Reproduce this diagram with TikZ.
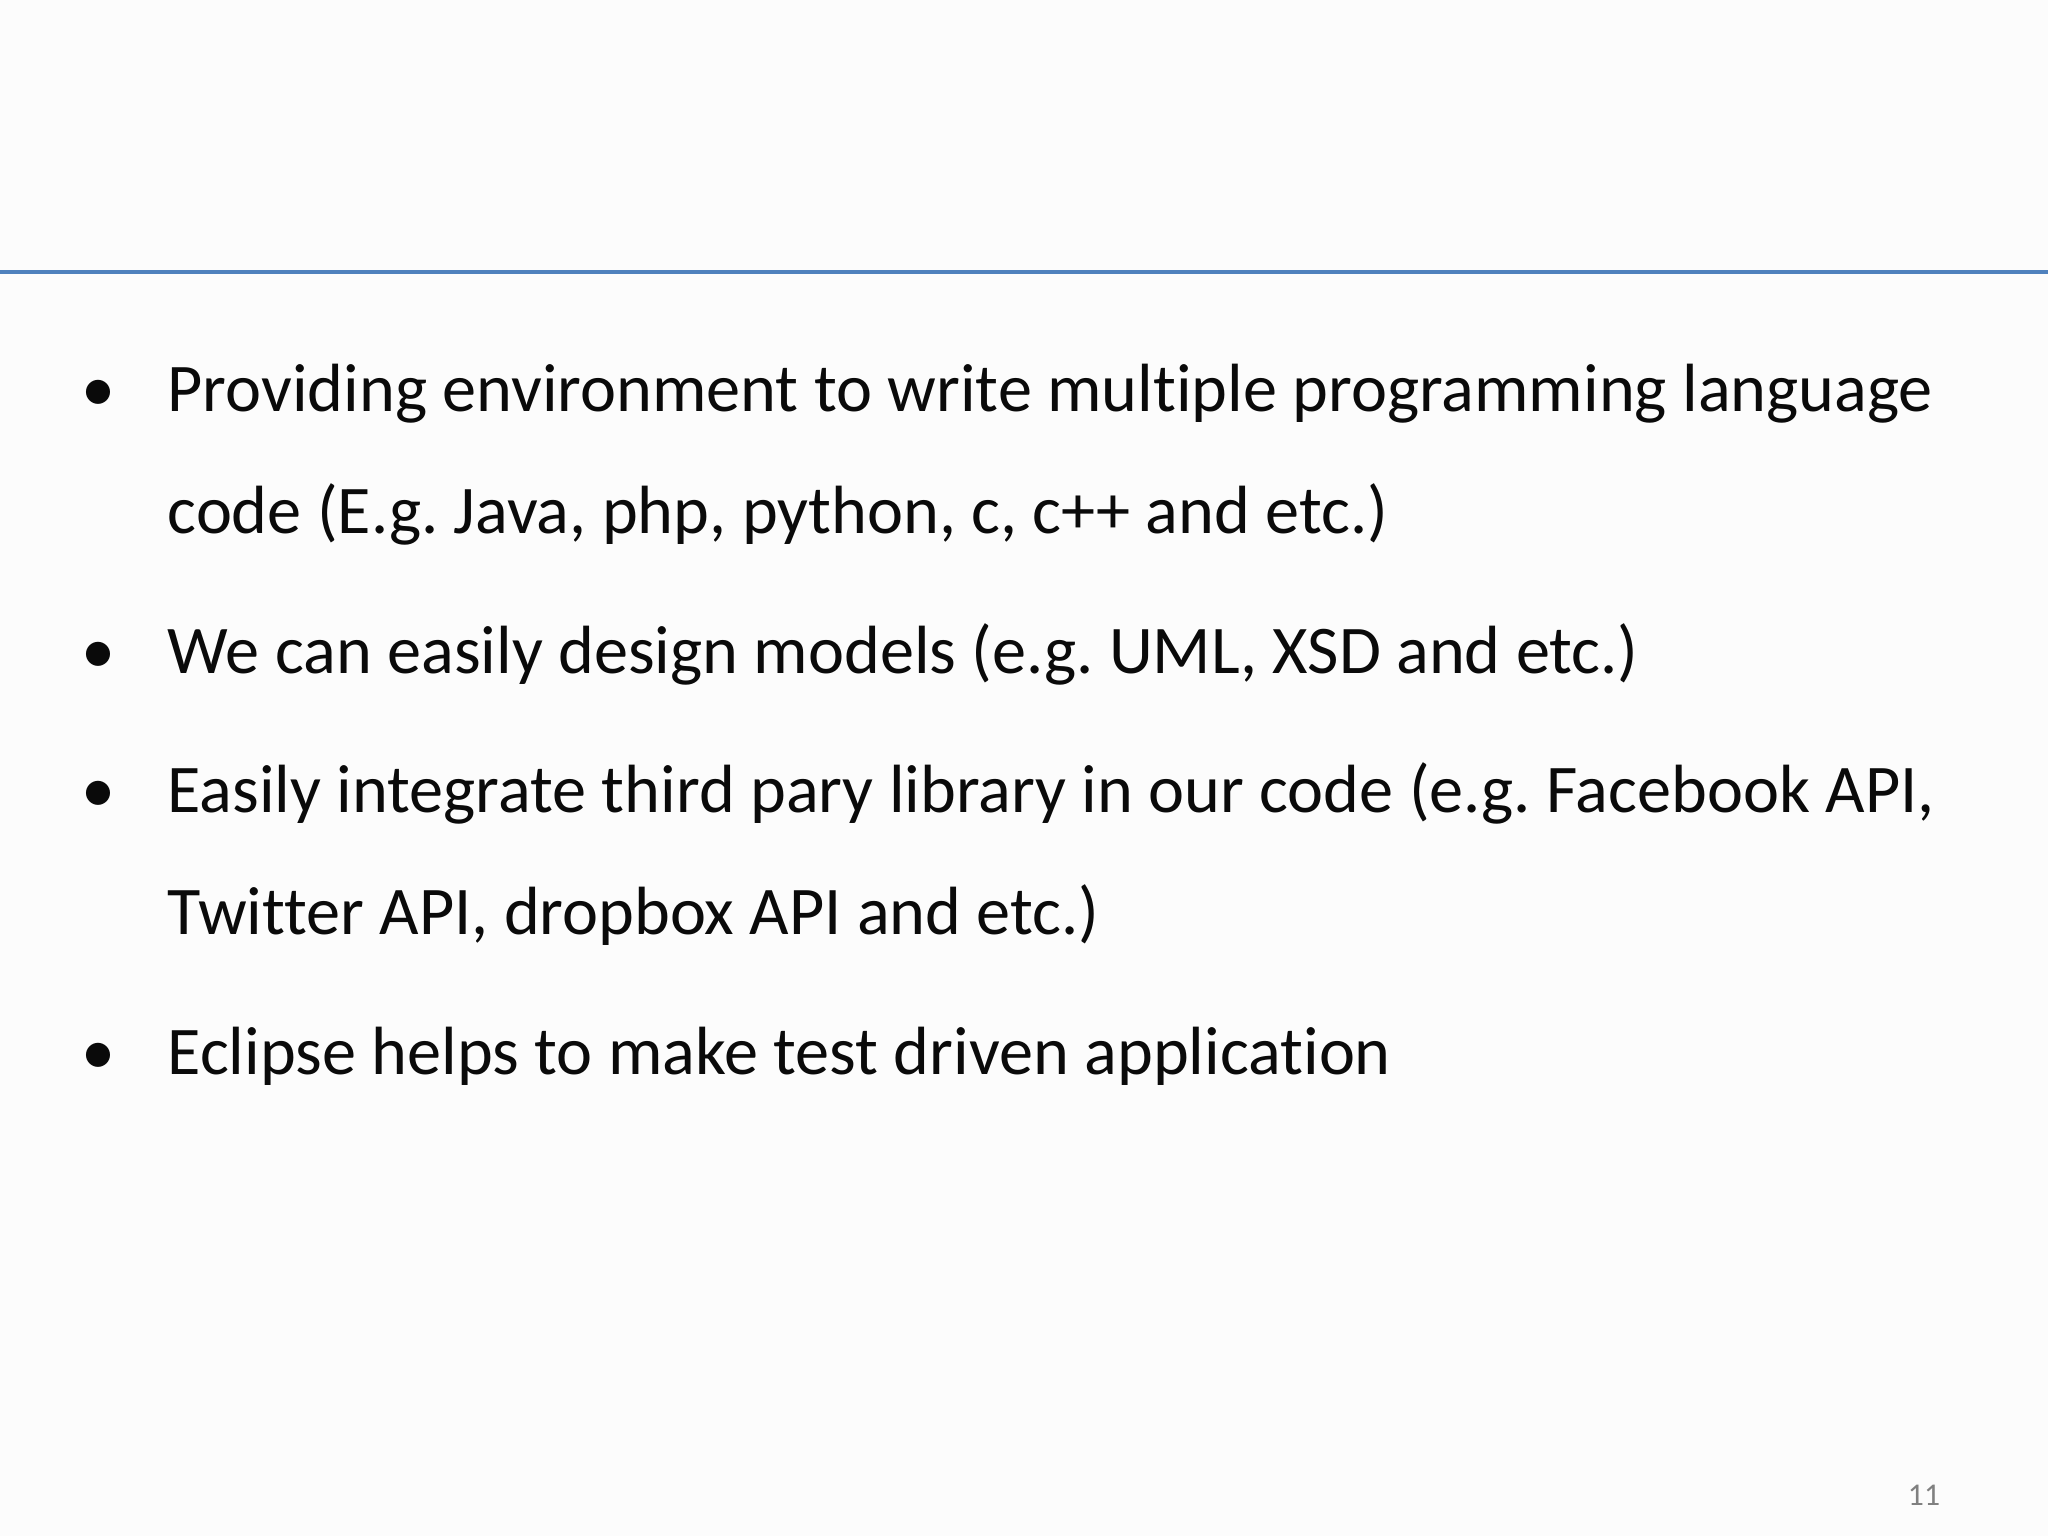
\documentclass[tikz,border=0pt]{standalone}
\usepackage{fontspec}
\setmainfont[RawFeature=-liga]{Carlito}
\definecolor{rule}{RGB}{79,129,189}
\definecolor{txt}{RGB}{10,10,10}
\frenchspacing
\begin{document}
\begin{tikzpicture}[x=0.01cm,y=-0.01cm,
  line/.style={anchor=base west,inner sep=0,font=\fontsize{19.4}{24}\selectfont,text=txt},
  bul/.style={anchor=base,inner sep=0,font=\fontsize{19.4}{24}\selectfont,text=txt}]
\fill[white!99!black] (0,0) rectangle (2048,1536);
\useasboundingbox (0,0) rectangle (2048,1536);
\draw[rule,line width=1.2pt] (0,272) -- (2048,272);
\node[bul] (b1) at (98,411) {\textbullet};
\node[line] (t1) at (167,411) {Providing environment to write multiple programming language};
\node[line] (t1b) at (167,533) {code (E.g. Java, php, python, c, c++ and etc.)};
\node[bul] (b2) at (98,673) {\textbullet};
\node[line] (t2) at (167,673) {We can easily design models (e.g. UML, XSD and etc.)};
\node[bul] (b3) at (98,812) {\textbullet};
\node[line] (t3) at (167,812) {Easily integrate third pary library in our code (e.g. Facebook API,};
\node[line] (t3b) at (167,934) {Twitter API, dropbox API and etc.)};
\node[bul] (b4) at (98,1074) {\textbullet};
\node[line] (t4) at (167,1074) {Eclipse helps to make test driven application};
\node[anchor=base,inner sep=0,font=\fontsize{9}{10}\selectfont,text=gray] (pg) at (1924,1505) {11};
\end{tikzpicture}
\end{document}
